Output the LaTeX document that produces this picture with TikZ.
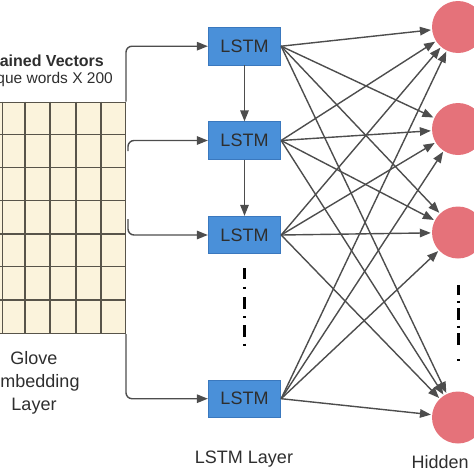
\documentclass[tikz,border=0pt]{standalone}
\usepackage{fontspec}
\setmainfont{Liberation Sans}
\usetikzlibrary{arrows.meta}
\definecolor{lstmfill}{HTML}{4A90D9}
\definecolor{lstmdraw}{HTML}{3A78BE}
\definecolor{hidfill}{HTML}{E5727A}
\definecolor{gridfill}{HTML}{FBF3DC}
\definecolor{gridline}{HTML}{58544A}
\definecolor{conncol}{HTML}{4D4D4D}
\definecolor{txt}{HTML}{2E2E2E}
\tikzset{
  lstmbox/.style={draw=lstmdraw, line width=0.8pt, fill=lstmfill, minimum width=72.5pt, minimum height=37.5pt, inner sep=0pt, text=txt, font=\fontsize{18}{20}\selectfont},
  hidnode/.style={circle, fill=hidfill, minimum size=52pt, inner sep=0pt},
  conn/.style={draw=conncol, line width=1.4pt, -{Triangle[length=11pt,width=8.5pt]}},
  elbow/.style={conn, rounded corners=6pt},
  lbl/.style={text=txt, font=\fontsize{18}{20}\selectfont, inner sep=0pt},
  ttl/.style={text=txt, font=\fontsize{15.5}{18}\selectfont, inner sep=0pt},
  dotseg/.style={draw=black, line width=3pt},
}
\begin{document}
\begin{tikzpicture}[x=1pt,y=-1pt]
\useasboundingbox (0,0) rectangle (474,474);
\begin{scope}
\clip (0,0) rectangle (474,474);
% embedding grid
\node[draw=gridline, line width=1.5pt, fill=gridfill, minimum width=149pt, minimum height=231pt, inner sep=0pt, anchor=north east] (emb) at (126,101.7) {};
\foreach \gx in {2.7,25,50,76,101} \draw[gridline, line width=1.5pt] (\gx,101.7) -- (\gx,332.7);
\foreach \gy in {134.3,167.3,200.7,234,266.7,300} \draw[gridline, line width=1.5pt] (-30,\gy) -- (126,\gy);
% titles
\node[ttl, font=\fontsize{16}{18}\selectfont\bfseries, anchor=base east] (t1) at (104,66) {Trained Vectors};
\node[ttl, anchor=base east] (t2) at (113,83.5) {Unique words X 200};
\node[lbl, anchor=base] (g1) at (34,364) {Glove};
\node[lbl, anchor=base] (g2) at (34,387) {Embedding};
\node[lbl, anchor=base] (g3) at (34,410) {Layer};
% LSTM nodes
\node[lstmbox] (l1) at (244.5,46.2) {LSTM};
\node[lstmbox] (l2) at (244.5,140.5) {LSTM};
\node[lstmbox] (l3) at (244.5,235) {LSTM};
\node[lstmbox] (l4) at (244.5,398.7) {LSTM};
\node[lbl, anchor=base] (ll) at (244,463) {LSTM Layer};
% hidden nodes
\node[hidnode] (h1) at (458,27) {};
\node[hidnode] (h2) at (458,129) {};
\node[hidnode] (h3) at (458,232.5) {};
\node[hidnode] (h4) at (458,417.5) {};
\node[lbl, anchor=base west] (hl) at (411.5,468) {Hidden};
% connectors from grid
\coordinate (s2) at (128,151);
\coordinate (s3) at (128,219);
\draw[elbow] (emb.north east) |- (l1.west);
\draw[elbow] (s2) |- (l2.west);
\draw[elbow] (s3) |- (l3.west);
\draw[elbow] (emb.south east) |- (l4.west);
% vertical LSTM links
\draw[conn] (l1.south) -- (l2.north);
\draw[conn] (l2.south) -- (l3.north);
% full connections
\foreach \i in {1,2,3,4}
  \foreach \j in {1,2,3,4}
    \draw[conn, shorten >=1pt] (l\i.east) -- (h\j);
% ellipsis marks
\draw[dotseg] (244,268) -- (244,279);
\draw[dotseg] (244,286.5) -- (244,288.5);
\draw[dotseg] (244,297) -- (244,309);
\draw[dotseg] (244,316) -- (244,318);
\draw[dotseg] (244,325) -- (244,337);
\draw[dotseg] (244,343.5) -- (244,345.5);
\draw[dotseg] (458,285) -- (458,295);
\draw[dotseg] (458,300.7) -- (458,302.7);
\draw[dotseg] (458,308) -- (458,320);
\draw[dotseg] (458,325.7) -- (458,327.7);
\draw[dotseg] (458,333) -- (458,345);
\draw[dotseg] (458,359) -- (458,361);
\end{scope}
\end{tikzpicture}
\end{document}
